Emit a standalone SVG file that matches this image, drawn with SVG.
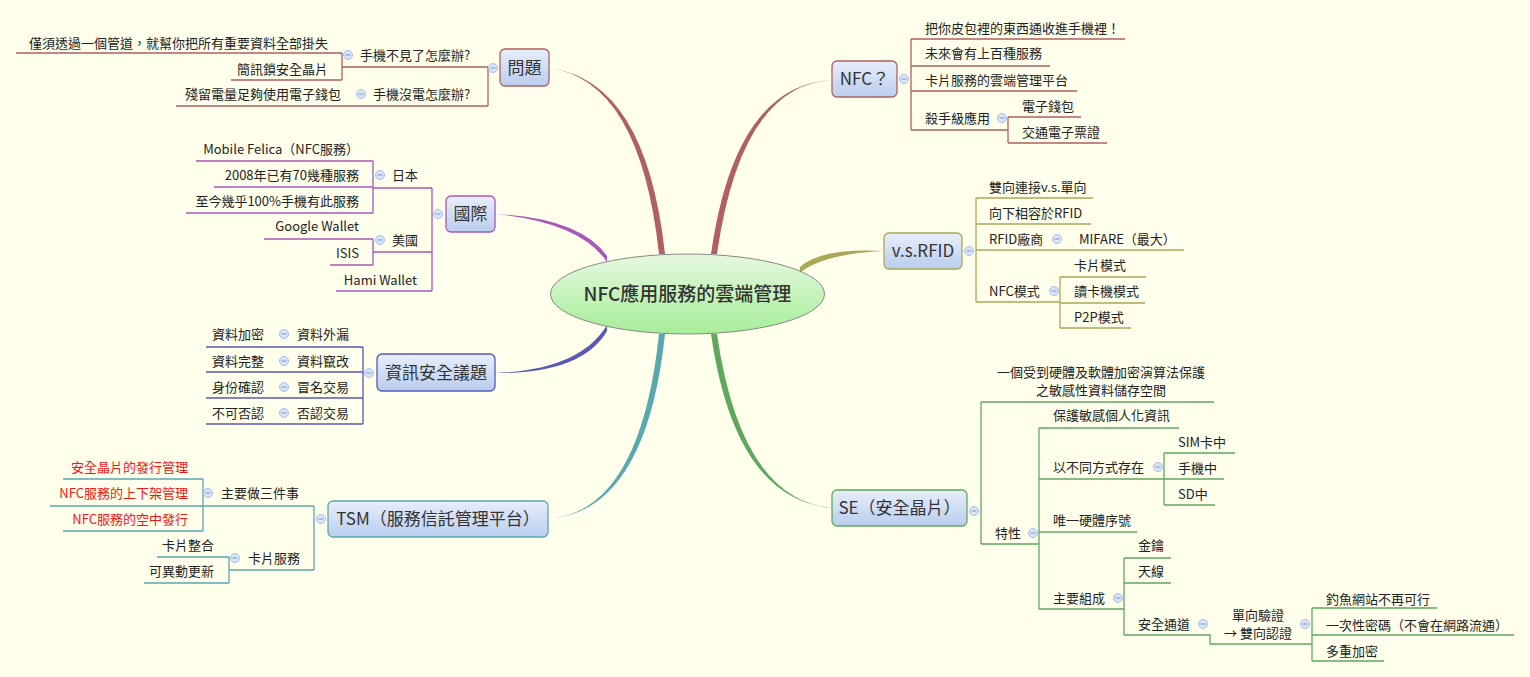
<svg xmlns="http://www.w3.org/2000/svg" width="1530" height="677" viewBox="0 0 1530 677">
<defs>
<linearGradient id="cg" x1="0" y1="0" x2="0" y2="1"><stop offset="0" stop-color="#E6F8E0"/><stop offset="1" stop-color="#A6EE98"/></linearGradient>
<linearGradient id="bg" x1="0" y1="0" x2="0" y2="1"><stop offset="0" stop-color="#E8EEFA"/><stop offset="1" stop-color="#B9CDEE"/></linearGradient>
<symbol id="c" overflow="visible"><circle r="4.5" fill="#D8E4F8" stroke="#A9BDE6"/><path d="M-2.5,0H2.5" stroke="#7F97CC" stroke-width="1"/></symbol>
</defs>
<style>
text{font-family:"Noto Sans CJK TC","Noto Sans",sans-serif;font-size:13px;fill:#222}
.s{text-anchor:start}.e{text-anchor:end}.m{text-anchor:middle}
.t{font-size:17px;text-anchor:middle;fill:#333}
.red{fill:#F01818}
path.l{fill:none;stroke-width:1.3}
.box{fill:url(#bg);stroke-width:1.3}
</style>
<rect width="1530" height="677" fill="#FFFFEB"/>
<g id="connectors">
<path d="M659,254 Q640,80 549,68 Q646,80 665,254Z" fill="#B06060"/>
<path d="M711,254 Q735,85 832,80 Q741,85 717,254Z" fill="#B06060"/>
<path d="M607,256 Q580,218 495,214 Q580,222 607,262Z" fill="#A858B8"/>
<path d="M800,267 Q820,248 884,251 Q822,254 800,273Z" fill="#A8A858"/>
<path d="M607,325 Q580,370 495,373 Q582,374 607,331Z" fill="#5858B8"/>
<path d="M711,334 Q735,500 832,508 Q741,500 717,334Z" fill="#60A860"/>
<path d="M659,334 Q640,512 548,519 Q646,512 665,334Z" fill="#58A8B0"/>
</g>
<g id="center">
<ellipse cx="687.5" cy="294" rx="137" ry="40" fill="url(#cg)" stroke="#888" stroke-width="1"/>
<text x="687.5" y="301" class="m" style="font-size:19px;font-weight:500;fill:#333">NFC應用服務的雲端管理</text>
</g>
<g id="wenti">
<path class="l" stroke="#B06060" d="M488,67V106M342,67H488M176,106H488M342,53V80M16,53H342M231,80H342"/>
<rect class="box" stroke="#B06060" x="500" y="49" width="49" height="37" rx="5"/>
<text class="t" x="524.5" y="74">問題</text>
<text class="s" x="360" y="60">手機不見了怎麼辦?</text>
<text class="e" x="328" y="48">僅須透過一個管道，就幫你把所有重要資料全部掛失</text>
<text class="e" x="328" y="74">簡訊鎖安全晶片</text>
<text class="s" x="373" y="99">手機沒電怎麼辦?</text>
<text class="e" x="341" y="99">殘留電量足夠使用電子錢包</text>
<use href="#c" x="493" y="68"/><use href="#c" x="348" y="55"/><use href="#c" x="361" y="94"/>
</g>
<g id="guoji">
<path class="l" stroke="#A858B8" d="M432,188V291M373,188H432M373,252H432M336,291H432M373,161V213M196,161H373M214,187H373M186,213H373M373,239V265M264,239H373M330,265H373"/>
<rect class="box" stroke="#A858B8" x="446" y="196" width="49" height="36" rx="5"/>
<text class="t" x="470.5" y="220">國際</text>
<text class="s" x="392" y="180">日本</text>
<text class="e" x="359" y="154">Mobile Felica（NFC服務）</text>
<text class="e" x="359" y="180">2008年已有70幾種服務</text>
<text class="e" x="359" y="206">至今幾乎100%手機有此服務</text>
<text class="s" x="392" y="245">美國</text>
<text class="e" x="359" y="231">Google Wallet</text>
<text class="e" x="359" y="258">ISIS</text>
<text class="e" x="417" y="285">Hami Wallet</text>
<use href="#c" x="438" y="214"/><use href="#c" x="380" y="175"/><use href="#c" x="380" y="240"/>
</g>
<g id="zixun">
<path class="l" stroke="#5858B8" d="M363,347V424M206,347H363M206,372H363M206,398H363M206,424H363"/>
<rect class="box" stroke="#5858B8" x="377" y="354" width="118" height="37" rx="5"/>
<text class="t" x="436" y="379">資訊安全議題</text>
<text class="s" x="212" y="339">資料加密</text><text class="s" x="297" y="339">資料外漏</text>
<text class="s" x="212" y="366">資料完整</text><text class="s" x="297" y="366">資料竄改</text>
<text class="s" x="212" y="392">身份確認</text><text class="s" x="297" y="392">冒名交易</text>
<text class="s" x="212" y="418">不可否認</text><text class="s" x="297" y="418">否認交易</text>
<use href="#c" x="369" y="373"/><use href="#c" x="284" y="334"/><use href="#c" x="284" y="361"/><use href="#c" x="284" y="387"/><use href="#c" x="284" y="413"/>
</g>
<g id="tsm">
<path class="l" stroke="#58A8B0" d="M314,506V570M203,506H314M229,570H314M203,479V531M63,479H203M50,506H203M63,531H203M229,557V583M157,557H229M144,583H229"/>
<rect class="box" stroke="#58A8B0" x="328" y="501" width="220" height="36" rx="5"/>
<text class="t" x="438" y="525">TSM（服務信託管理平台）</text>
<text class="s" x="221" y="498">主要做三件事</text>
<text class="e red" x="188" y="472">安全晶片的發行管理</text>
<text class="e red" x="188" y="498">NFC服務的上下架管理</text>
<text class="e red" x="188" y="524">NFC服務的空中發行</text>
<text class="s" x="248" y="563">卡片服務</text>
<text class="e" x="214" y="550">卡片整合</text>
<text class="e" x="214" y="576">可異動更新</text>
<use href="#c" x="321" y="519"/><use href="#c" x="208" y="493"/><use href="#c" x="235" y="558"/>
</g>
<g id="nfc">
<path class="l" stroke="#B06060" d="M911,39V130M911,39H1125M911,66H1050M911,91H1077M911,130H1008M1008,117V143M1008,117H1081M1008,143H1107"/>
<rect class="box" stroke="#B06060" x="832" y="61" width="65" height="36" rx="5"/>
<text class="t" x="864.5" y="85">NFC？</text>
<text class="s" x="925" y="33">把你皮包裡的東西通收進手機裡！</text>
<text class="s" x="925" y="58">未來會有上百種服務</text>
<text class="s" x="925" y="85">卡片服務的雲端管理平台</text>
<text class="s" x="925" y="123">殺手級應用</text>
<text class="s" x="1022" y="111">電子錢包</text>
<text class="s" x="1022" y="137">交通電子票證</text>
<use href="#c" x="904" y="79"/><use href="#c" x="1002" y="118"/>
</g>
<g id="rfid">
<path class="l" stroke="#A8A858" d="M976,198V302M976,198H1093M976,224H1091M976,250H1184M976,302H1060M1060,277V328M1060,277H1146M1060,303H1145M1060,328H1131"/>
<rect class="box" stroke="#A8A858" x="884" y="233" width="78" height="36" rx="5"/>
<text class="t" x="923" y="257">v.s.RFID</text>
<text class="s" x="989" y="192">雙向連接v.s.單向</text>
<text class="s" x="989" y="218">向下相容於RFID</text>
<text class="s" x="989" y="244">RFID廠商</text>
<text class="s" x="1079" y="244">MIFARE（最大）</text>
<text class="s" x="989" y="296">NFC模式</text>
<text class="s" x="1074" y="270">卡片模式</text>
<text class="s" x="1074" y="296">讀卡機模式</text>
<text class="s" x="1074" y="322">P2P模式</text>
<use href="#c" x="969" y="251"/><use href="#c" x="1057" y="239"/><use href="#c" x="1054" y="291"/>
</g>
<g id="se">
<path class="l" stroke="#60A860" d="M981,402V544M981,402H1214M981,544H1039M1039,428V609M1039,428H1179M1039,479H1164M1039,532H1137M1039,609H1124M1164,453V505M1164,453H1235M1164,479H1224M1164,505H1215M1124,558V635M1124,558H1171M1124,583H1171M1124,635H1210V644H1312M1312,608V661M1312,608H1437M1312,635H1514M1312,661H1384"/>
<rect class="box" stroke="#60A860" x="832" y="490" width="135" height="36" rx="5"/>
<text class="t" x="899.5" y="514">SE（安全晶片）</text>
<text class="m" x="1101" y="377">一個受到硬體及軟體加密演算法保護</text>
<text class="m" x="1101" y="395">之敏感性資料儲存空間</text>
<text class="s" x="995" y="538">特性</text>
<text class="s" x="1053" y="420">保護敏感個人化資訊</text>
<text class="s" x="1053" y="472">以不同方式存在</text>
<text class="s" x="1178" y="447">SIM卡中</text>
<text class="s" x="1178" y="473">手機中</text>
<text class="s" x="1178" y="499">SD中</text>
<text class="s" x="1053" y="525">唯一硬體序號</text>
<text class="s" x="1053" y="603">主要組成</text>
<text class="s" x="1138" y="550">金鑰</text>
<text class="s" x="1138" y="576">天線</text>
<text class="s" x="1138" y="629">安全通道</text>
<text class="m" x="1258" y="620">單向驗證</text>
<text class="m" x="1258" y="638">→ 雙向認證</text>
<text class="s" x="1326" y="604">釣魚網站不再可行</text>
<text class="s" x="1326" y="630">一次性密碼（不會在網路流通）</text>
<text class="s" x="1326" y="656">多重加密</text>
<use href="#c" x="974" y="511"/><use href="#c" x="1033" y="533"/><use href="#c" x="1158" y="467"/><use href="#c" x="1118" y="598"/><use href="#c" x="1203" y="624"/><use href="#c" x="1305" y="624"/>
</g>
</svg>
